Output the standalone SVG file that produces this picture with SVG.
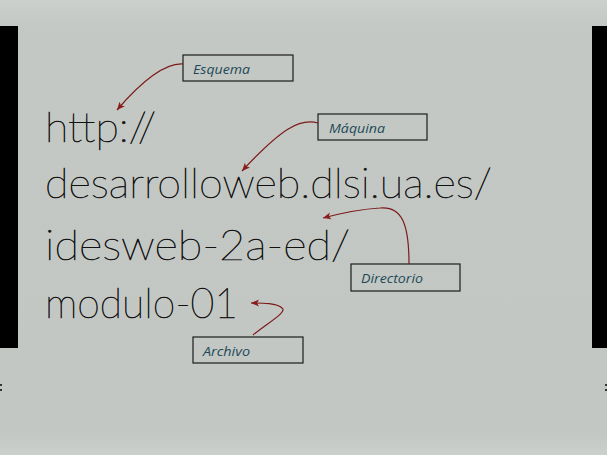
<svg xmlns="http://www.w3.org/2000/svg" width="607" height="455" viewBox="0 0 607 455">
<style>
.url{font-family:"Lato","DejaVu Sans",sans-serif;font-weight:100;font-size:41px;fill:#111;stroke:#111;stroke-width:0.6;}
.box{fill:none;stroke:#1c1c1c;stroke-width:1.2;}
.lbl{font-family:"Open Sans","Liberation Sans",sans-serif;font-style:italic;font-size:13px;fill:#1d4a58;}
.arr{fill:none;stroke:#7c1a1a;stroke-width:1.2;marker-end:url(#ah);}
</style>
<defs>
<marker id="ah" markerUnits="userSpaceOnUse" markerWidth="9" markerHeight="8" refX="8" refY="4" orient="auto">
<path d="M0,0.5 L8,4 L0,7.5 L2,4 Z" fill="#8a1c1c"/>
</marker>
<linearGradient id="bg" x1="0" y1="0" x2="0" y2="1">
<stop offset="0" stop-color="#ccd0cc"/>
<stop offset="0.06" stop-color="#c4c8c4"/>
<stop offset="0.95" stop-color="#c3c7c3"/>
<stop offset="1" stop-color="#ccd0cc"/>
</linearGradient>
</defs>
<rect x="0" y="0" width="607" height="455" fill="url(#bg)"/>
<rect x="0" y="26" width="18" height="322" fill="#000"/>
<rect x="592" y="26" width="15" height="322" fill="#000"/>
<rect x="0" y="384" width="2" height="2" fill="#333"/>
<rect x="0" y="389" width="2" height="2" fill="#333"/>
<rect x="605" y="384" width="2" height="2" fill="#333"/>
<rect x="605" y="389" width="2" height="2" fill="#333"/>
<g id="url">
<text class="url" x="45" y="142" textLength="111" lengthAdjust="spacingAndGlyphs">http://</text>
<text class="url" x="45" y="198" textLength="447" lengthAdjust="spacingAndGlyphs">desarrolloweb.dlsi.ua.es/</text>
<text class="url" x="45" y="260" textLength="305" lengthAdjust="spacingAndGlyphs">idesweb-2a-ed/</text>
<text class="url" x="45" y="318" textLength="193" lengthAdjust="spacingAndGlyphs">modulo-01</text>
</g>
<g id="esquema">
<rect class="box" x="183" y="55" width="110" height="26"/>
<text class="lbl" x="193" y="74" textLength="57" lengthAdjust="spacingAndGlyphs">Esquema</text>
</g>
<g id="maquina">
<rect class="box" x="318" y="114" width="109" height="26"/>
<text class="lbl" x="329" y="133" textLength="56" lengthAdjust="spacingAndGlyphs">Máquina</text>
</g>
<g id="directorio">
<rect class="box" x="351" y="264" width="109" height="27"/>
<text class="lbl" x="361" y="283" textLength="62" lengthAdjust="spacingAndGlyphs">Directorio</text>
</g>
<g id="archivo">
<rect class="box" x="193" y="337" width="110" height="26"/>
<text class="lbl" x="203" y="356" textLength="47" lengthAdjust="spacingAndGlyphs">Archivo</text>
</g>
<g id="connectors">
<path class="arr" d="M183,64 C168,63 148,74 117,110"/>
<path class="arr" d="M318,123 C300,118 282,128 242,171"/>
<path class="arr" d="M409,264 C409,224 402,206 380,208 C362,209 342,213 323,218"/>
<path class="arr" d="M253,335 C266,324 288,312 282,308 C277,303 263,303 251,303"/>
</g>
</svg>
